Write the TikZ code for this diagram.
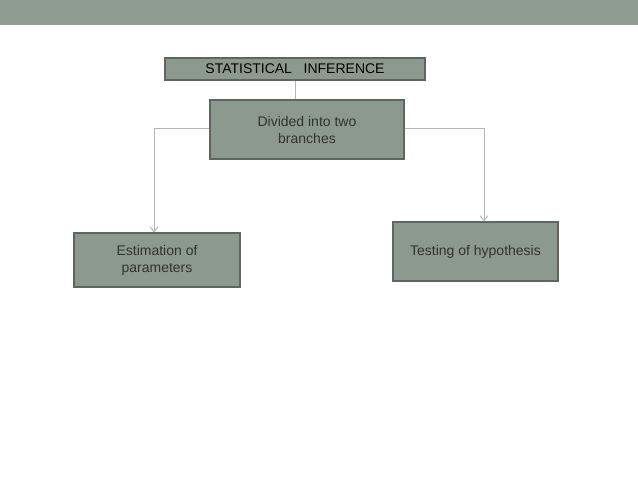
\documentclass[tikz,border=0pt]{standalone}
\usepackage{fontspec}
\setmainfont{Liberation Sans}
\usetikzlibrary{arrows.meta}
\definecolor{boxfill}{HTML}{8C998F}
\definecolor{bar}{HTML}{8E9C91}
\definecolor{boxline}{HTML}{5F6660}
\definecolor{txt}{HTML}{333333}
\definecolor{conn}{HTML}{B4B8B5}
\tikzset{
  box/.style={draw=boxline, line width=1.2pt, fill=boxfill, inner sep=0pt, align=center, font=\fontsize{14}{17}\selectfont, text=txt},
  link/.style={draw=conn, line width=1pt},
  arr/.style={link, -{Straight Barb[length=5pt,width=8pt]}}
}
\begin{document}
\begin{tikzpicture}[x=1pt,y=-1pt]
\useasboundingbox (0,0) rectangle (638,478);
\fill[bar] (0,0) rectangle (638,25);
\node[box, text=black, minimum width=260pt, minimum height=22pt] (si) at (295,69) {STATISTICAL\ \ \ INFERENCE};
\node[box, minimum width=194pt, minimum height=59pt] (div) at (307,129.5) {Divided into two\\branches};
\node[box, minimum width=166pt, minimum height=54pt] (est) at (157,260) {Estimation of\\parameters};
\node[box, minimum width=165pt, minimum height=59pt] (test) at (475.5,251.5) {Testing of hypothesis};
\draw[link] (295,80.6) -- (295,99.4);
\coordinate (lc) at (154,129);
\coordinate (rc) at (484,129);
\draw[arr] (div.west |- lc) -- (lc) -- (154,232.5);
\draw[arr] (div.east |- rc) -- (rc) -- (484,221.5);
\end{tikzpicture}
\end{document}
